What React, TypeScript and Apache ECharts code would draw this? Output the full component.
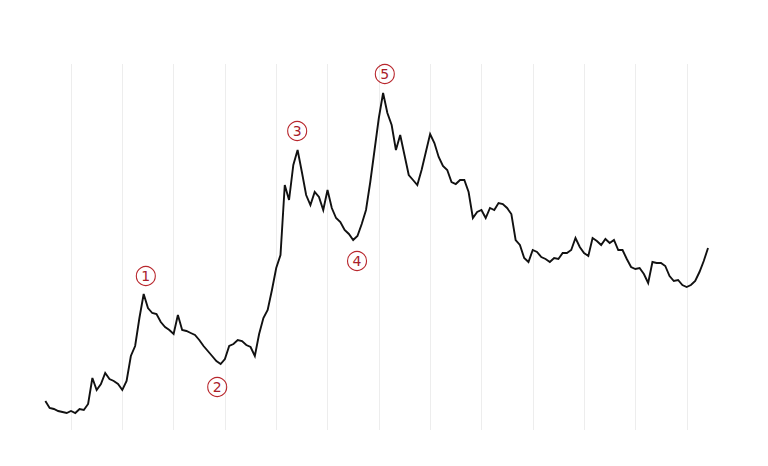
import React, { useEffect, useRef } from "react";
import * as echarts from "echarts";

// time index (arbitrary units, 12 per grid column) and price (arbitrary units)
const startIndex = 6;
const prices = [
  29, 22, 21, 19, 18, 17, 19, 17, 21, 20, 26, 52, 40, 46, 57, 51, 49, 46, 40, 49,
  74, 84, 112, 136, 122, 117, 116, 108, 103, 100, 96, 115, 100, 99, 97, 95, 90, 84, 79, 74,
  69, 66, 71, 84, 86, 90, 89, 85, 83, 74, 96, 112, 120, 140, 162, 175, 245, 230, 265, 280,
  258, 235, 225, 238, 233, 220, 240, 222, 212, 208, 200, 196, 190, 194, 206, 220, 248, 280, 312, 337,
  317, 305, 280, 295, 275, 255, 250, 245, 260, 278, 296, 287, 273, 264, 260, 248, 246, 250, 250, 238,
  212, 218, 220, 212, 222, 220, 227, 226, 222, 216, 190, 185, 172, 168, 180, 178, 173, 171, 168, 172,
  171, 177, 177, 180, 192, 183, 177, 174, 192, 189, 185, 191, 187, 190, 180, 180, 171, 163, 161, 162,
  156, 147, 168, 167, 167, 164, 154, 149, 150, 145, 143, 145, 149, 158, 169, 182,
];

// wave labels: text, time index, price level
const waveLabels = ["1", "2", "3", "4", "5"];
const waveX = [29.5, 46.2, 64.9, 78.9, 85.4];
const waveY = [154, 43, 299, 169, 356];

const hiddenAxis = {
  axisLine: { show: false },
  axisTick: { show: false },
  axisLabel: { show: false },
};

export default function App() {
  const ref = useRef<HTMLDivElement>(null);
  useEffect(() => {
    if (!ref.current) return;
    const chart = echarts.init(ref.current, null, { renderer: "svg" });
    const data = prices.map((p, i) => [startIndex + i, p]);
    chart.setOption({
      animation: false,
      backgroundColor: "#ffffff",
      grid: [
        { left: 19.7, right: 55.7, top: 64, bottom: 36, containLabel: false },
        { left: 71, right: 81, top: 64, bottom: 36, containLabel: false },
      ],
      xAxis: [
        { type: "value", gridIndex: 0, min: 0, max: 162, ...hiddenAxis, splitLine: { show: false } },
        {
          type: "value",
          gridIndex: 1,
          min: 12,
          max: 156,
          interval: 12,
          ...hiddenAxis,
          splitLine: { show: true, lineStyle: { color: "#ededed", width: 1 } },
        },
      ],
      yAxis: [
        { type: "value", gridIndex: 0, min: 0, max: 366, ...hiddenAxis, splitLine: { show: false } },
        { type: "value", gridIndex: 1, min: 0, max: 366, ...hiddenAxis, splitLine: { show: false } },
      ],
      series: [
        {
          type: "line",
          xAxisIndex: 0,
          yAxisIndex: 0,
          data,
          showSymbol: false,
          symbol: "none",
          z: 3,
          lineStyle: { color: "#111111", width: 1.9, join: "miter" },
          markPoint: {
            symbol: "circle",
            symbolSize: 19,
            itemStyle: { color: "rgba(255,255,255,0)", borderColor: "#b8272d", borderWidth: 1.1 },
            label: {
              show: true,
              color: "#a8202a",
              fontSize: 14,
              fontFamily: "DejaVu Sans",
              formatter: (p: any) => p.name,
            },
            data: waveLabels.map((t, i) => ({ name: t, coord: [waveX[i], waveY[i]] })),
          },
        },
        {
          type: "line",
          xAxisIndex: 1,
          yAxisIndex: 1,
          data: [],
          silent: true,
        },
      ],
    });
    return () => chart.dispose();
  }, []);
  return (
    <div
      ref={ref}
      style={{ position: "fixed", left: 0, top: 0, width: 768, height: 466, background: "#fff" }}
    />
  );
}
